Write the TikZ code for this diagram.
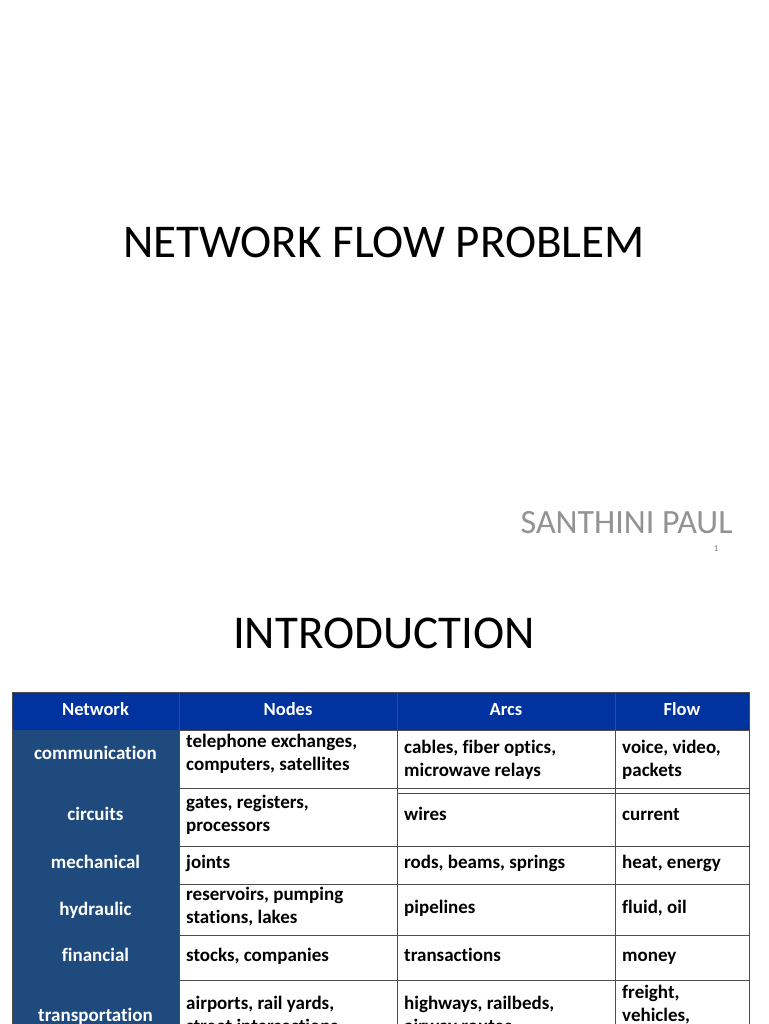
\documentclass[tikz,border=0pt]{standalone}
\usepackage{fontspec}
\setmainfont{Carlito}[Ligatures={NoCommon}]
\begin{document}
\begin{tikzpicture}[x=1pt,y=-1pt,
  hdr/.style={font=\fontsize{18.5}{22}\selectfont\bfseries,text=white,align=center,execute at begin node={\strut}},
  fc/.style={font=\fontsize{19}{22}\selectfont\bfseries,text=white,align=center,execute at begin node={\strut}},
  cell/.style={font=\fontsize{19}{23}\selectfont\bfseries,anchor=west,align=left,inner sep=2pt,execute at begin node={\strut}}]
\definecolor{hblue}{HTML}{0033A0}
\definecolor{cblue}{HTML}{1F4A7D}
\path[use as bounding box,fill=white] (0,0) rectangle (768,1024);
\begin{scope}
\clip (0,0) rectangle (768,1024);
\node (title) at (384,242) {\fontsize{47}{54}\selectfont NETWORK FLOW PROBLEM};
\node[anchor=east,text=gray!85] (author) at (736,523) {\fontsize{34}{40}\selectfont SANTHINI PAUL};
\node[anchor=east,text=gray] (pg) at (722,549) {\fontsize{9}{10}\selectfont 1};
\node (intro) at (384,633) {\fontsize{47}{54}\selectfont INTRODUCTION};
\fill[hblue] (12,692) rectangle (749,730);
\fill[cblue] (12,730) rectangle (179,1030);
\draw[black!70,line width=0.8pt] (12,692) rectangle (749,1030);
\foreach \x in {179,397,615} \draw[black!70,line width=0.8pt] (\x,692) -- (\x,1030);
\foreach \y in {730,788,846,884,935,980} \draw[black!70,line width=0.8pt] (179,\y) -- (749,\y);
\draw[black!70,line width=0.8pt] (397,793) -- (749,793);
\node[hdr] (h1) at (95.5,711) {Network};
\node[hdr] (h2) at (288,711) {Nodes};
\node[hdr] (h3) at (506,711) {Arcs};
\node[hdr] (h4) at (682,711) {Flow};
\node[fc] (r1) at (95.5,755) {communication};
\node[fc] (r2) at (95.5,816) {circuits};
\node[fc] (r3) at (95.5,864) {mechanical};
\node[fc] (r4) at (95.5,911) {hydraulic};
\node[fc] (r5) at (95.5,957) {financial};
\node[fc] (r6) at (95.5,1017) {transportation};
\node[cell] (n1) at (184,756) {telephone exchanges,\\computers, satellites};
\node[cell] (a1) at (402,762) {cables, fiber optics,\\microwave relays};
\node[cell] (f1) at (620,762) {voice, video,\\packets};
\node[cell] (n2) at (184,817) {gates, registers,\\processors};
\node[cell] (a2) at (402,816) {wires};
\node[cell] (f2) at (620,816) {current};
\node[cell] (n3) at (184,864) {joints};
\node[cell] (a3) at (402,864) {rods, beams, springs};
\node[cell] (f3) at (620,864) {heat, energy};
\node[cell] (n4) at (184,909) {reservoirs, pumping\\stations, lakes};
\node[cell] (a4) at (402,909) {pipelines};
\node[cell] (f4) at (620,909) {fluid, oil};
\node[cell] (n5) at (184,957) {stocks, companies};
\node[cell] (a5) at (402,957) {transactions};
\node[cell] (f5) at (620,957) {money};
\node[cell] (n6) at (184,1018) {airports, rail yards,\\street intersections};
\node[cell] (a6) at (402,1018) {highways, railbeds,\\airway routes};
\node[cell] (f6) at (620,1018) {freight,\\vehicles,\\passengers};
\end{scope}
\end{tikzpicture}
\end{document}
